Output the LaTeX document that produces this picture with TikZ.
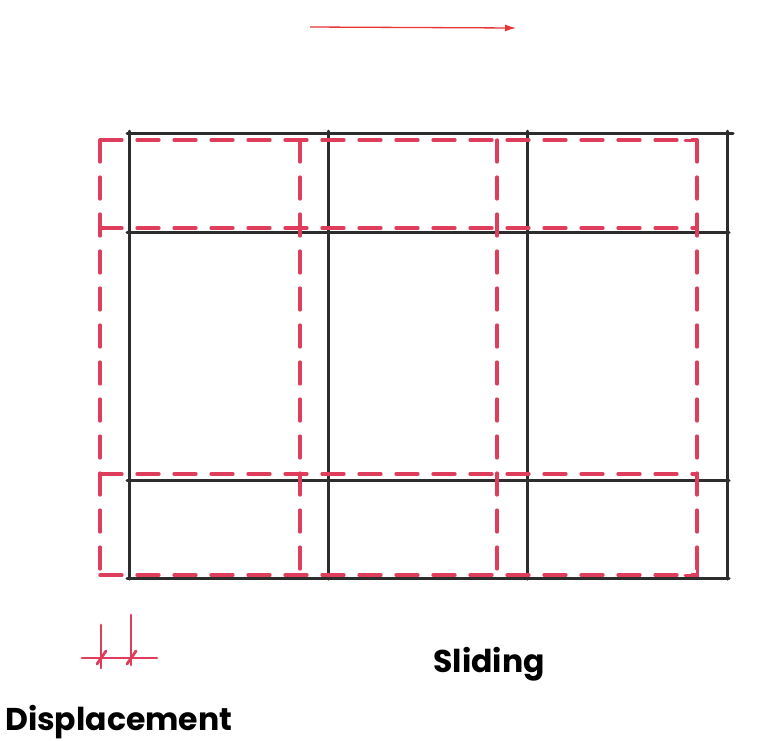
\documentclass[tikz,border=0pt]{standalone}
\usepackage{fontspec}
\setmainfont{Poppins}
\usetikzlibrary{arrows.meta}
\definecolor{pen}{RGB}{222,62,92}
\definecolor{arr}{RGB}{232,52,52}
\definecolor{ink}{RGB}{45,45,45}
\tikzset{
  gridline/.style={draw=ink,line width=3pt,line cap=round},
  redline/.style={draw=pen,line width=3.2pt,line cap=round,dash pattern=on 22pt off 15pt},
  redsolid/.style={draw=pen,line width=3pt,line cap=round},
  label/.style={font=\fontsize{31.5}{36}\selectfont\bfseries,text=black,inner sep=0pt}
}
\begin{document}
\begin{tikzpicture}[x=1pt,y=-1pt]
\useasboundingbox (0,0) rectangle (768,740);
% motion arrow
\coordinate (a1) at (310,27);
\coordinate (a2) at (516,28);
\draw[arr,line width=1.3pt,-{Latex[length=11pt,width=7pt]}] (a1) -- (a2);
% black grid
\foreach \x in {129,328,527,727} \draw[gridline] (\x,131) -- (\x,579);
\foreach \y in {133,232,480,578} \draw[gridline] (127,\y) -- (729,\y);
\draw[gridline] (727,133) -- (733,133);
% red displaced dashed grid
\foreach \y in {140,228,474,575} {
  \draw[redline] (100,\y) -- (697,\y);
  \draw[redsolid] (100,\y) -- (112,\y);
}
\foreach \x in {100,300,497,697} \draw[redline] (\x,140) -- (\x,575);
\foreach \x in {300,497,697} \draw[redsolid] (\x,140) -- (\x,150);
\draw[redsolid] (685,140) -- (697,140);
\draw[redsolid] (685,575) -- (697,575) -- (697,563);
% displacement marker
\draw[redsolid,line width=2.8pt] (82,658) -- (157,658);
\draw[redsolid,line width=2.8pt] (101,625) -- (101,668);
\draw[redsolid,line width=2.8pt] (131,615) -- (131,665);
\draw[redsolid,line width=2.8pt] (97,664) -- (106,651);
\draw[redsolid,line width=2.8pt] (127,664) -- (136,651);
% labels
\node[label] (sliding) at (489,664) {Sliding};
\node[label,anchor=west] (disp) at (5,722) {Displacement};
\end{tikzpicture}
\end{document}
